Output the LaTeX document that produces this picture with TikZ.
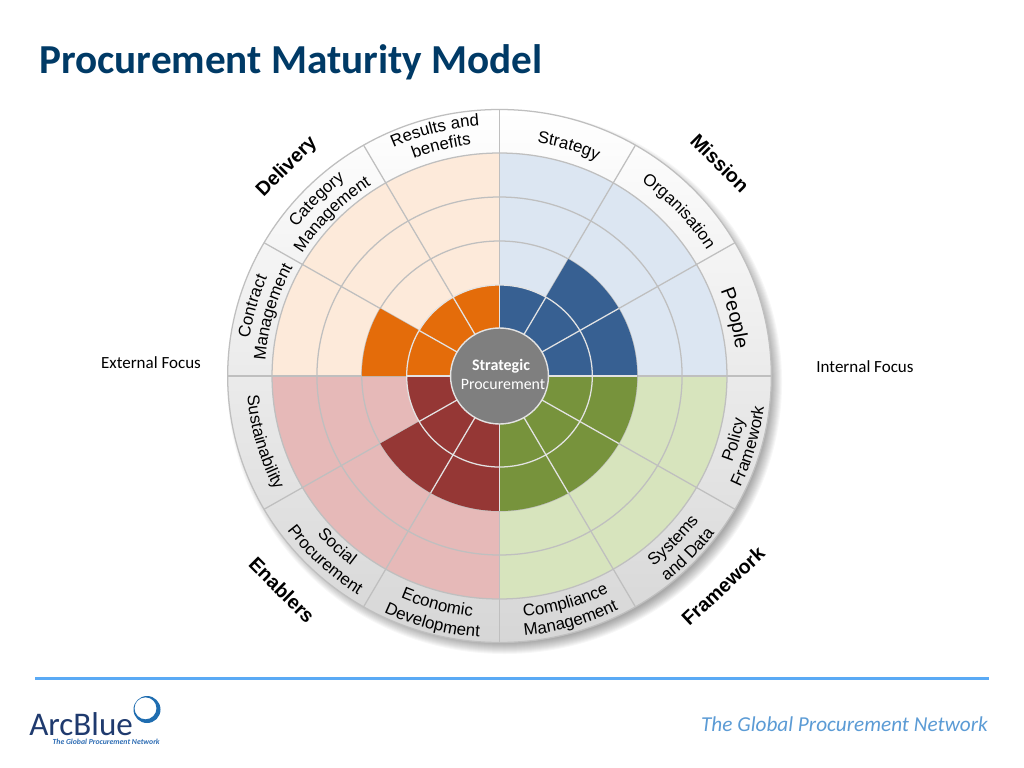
\documentclass[tikz,border=0pt]{standalone}
\usepackage{fontspec}
\usepackage{tikz}
\usetikzlibrary{decorations.text}
\setmainfont{Carlito}
\newfontfamily\arialfont{Liberation Sans}
\newcommand{\bandtext}{\arialfont\fontsize{12}{14}\selectfont}
\newcommand{\peopletext}{\arialfont\fontsize{14}{16}\selectfont}
\definecolor{titleblue}{HTML}{003A66}
\definecolor{ruleblue}{HTML}{5AAAF5}
\definecolor{netblue}{HTML}{5B9BD5}
\definecolor{logoblue}{HTML}{1F3A6E}
\definecolor{ringblue}{HTML}{1F6DB0}
\definecolor{tagblue}{HTML}{2E6DB4}
\definecolor{ringgrey}{HTML}{BFBFBF}
\definecolor{palering}{HTML}{E3E3E3}
\definecolor{coregrey}{HTML}{7F7F7F}
\definecolor{orangelight}{HTML}{FDEADA}
\definecolor{orangedark}{HTML}{E46C0A}
\definecolor{bluelight}{HTML}{DCE6F2}
\definecolor{bluedark}{HTML}{376092}
\definecolor{redlight}{HTML}{E6B9B8}
\definecolor{reddark}{HTML}{953735}
\definecolor{greenlight}{HTML}{D7E4BD}
\definecolor{greendark}{HTML}{77933C}
\tikzset{
  groupname/.style={inner sep=0pt,font=\arialfont\bfseries\fontsize{14}{16}\selectfont},
  sidename/.style={inner sep=0pt,font=\fontsize{12.1}{14}\selectfont},
  corename/.style={text=white,font=\fontsize{11.3}{13}\selectfont,inner sep=0pt},
  bandpath/.style={decorate,decoration={text along path,text align=center}},
  spoke/.style={ringgrey,line width=0.9pt},
  palespoke/.style={palering,line width=0.9pt},
}
% one line of band text on an arc of the wheel
\newcommand{\bandlabel}[5][\bandtext]{
  \path[bandpath,decoration={text={|#1|#5}}] (#2:{1.02*#4} and #4) arc[start angle=#2,end angle=#3,x radius={1.02*#4},y radius=#4];
}
% light quarter of the wheel: colour, start angle
\newcommand{\lightquarter}[2]{
  \fill[#1] (0,0) -- (#2:223) arc[start angle=#2,end angle=#2+90,radius=223] -- cycle;
}
% dark wedges of a quarter: colour, start angle, three radii
\newcommand{\darkquarter}[5]{
  \fill[#1] (0,0) -- (#2:#3) arc[start angle=#2,end angle=#2+30,radius=#3] -- cycle;
  \fill[#1] (0,0) -- (#2+30:#4) arc[start angle=#2+30,end angle=#2+60,radius=#4] -- cycle;
  \fill[#1] (0,0) -- (#2+60:#5) arc[start angle=#2+60,end angle=#2+90,radius=#5] -- cycle;
}
\begin{document}
\begin{tikzpicture}[x=0.025cm,y=0.025cm]
\useasboundingbox (0,0) rectangle (1024,-768);
\fill[white] (0,0) rectangle (1024,-768);
\node[anchor=west,inner sep=0pt,text=titleblue,font=\bfseries\fontsize{29.3}{32}\selectfont] (title) at (39,-62) {Procurement Maturity Model};
\begin{scope}[shift={(499.5,-376)},xscale=1.02]
% shadow
\foreach \i in {1,...,12}
  \fill[black,opacity=0.03] (5,-6) circle (273-\i);
\shade[top color=white,bottom color=black!16] (0,0) circle (266.5);
\draw[ringgrey,line width=0.9pt] (0,0) circle (266.5);
\lightquarter{bluelight}{0}
\lightquarter{orangelight}{90}
\lightquarter{redlight}{180}
\lightquarter{greenlight}{270}
\foreach \r in {135,179,223}
  \draw[spoke] (0,0) circle (\r);
\foreach \a in {0,30,...,330}
  \draw[spoke] (\a:48) -- (\a:266.5);
\darkquarter{bluedark}{0}{135}{135}{91}
\darkquarter{orangedark}{90}{91}{91}{135}
\darkquarter{reddark}{180}{91}{135}{135}
\darkquarter{greendark}{270}{135}{135}{135}
\draw[palespoke] (0,0) circle (91);
\foreach \a/\r in {0/135,30/135,60/91,90/91,120/91,150/91,180/91,210/91,240/135,270/135,300/135,330/135}
  \draw[palespoke] (\a:48) -- (\a:\r);
\fill[coregrey] (0,0) circle (48);
\draw[palering,line width=1pt] (0,0) circle (48);
\end{scope}
\begin{scope}[shift={(499.5,-376)}]
% upper half reads clockwise, lower half counter-clockwise
\bandlabel{124.5}{84.5}{251}{Results and}
\bandlabel{124}{84}{233}{benefits}
\bandlabel{93.5}{53.5}{236}{Strategy}
\bandlabel{155.5}{115.5}{248}{Category}
\bandlabel{155.5}{115.5}{229}{Management}
\bandlabel{63}{23}{239}{Organisation}
\bandlabel{184}{144}{248}{Contract}
\bandlabel{184}{144}{230}{Management}
\bandlabel[\peopletext]{34}{-6}{233}{People}
\bandlabel{176}{216}{248}{Sustainability}
\bandlabel{207}{247}{239}{Social}
\bandlabel{207}{247}{259}{Procurement}
\bandlabel{235}{275}{242}{Economic}
\bandlabel{235}{275}{262}{Development}
\bandlabel{266}{306}{242}{Compliance}
\bandlabel{266}{306}{261}{Management}
\bandlabel{296}{336}{243}{Systems}
\bandlabel{296}{336}{263}{and Data}
\bandlabel{324.5}{364.5}{244}{Policy}
\bandlabel{324}{364}{261}{Framework}
\end{scope}
\node[corename,font=\bfseries\fontsize{11.4}{13}\selectfont] (strategic) at (501,-366) {Strategic};
\node[corename] (procurement) at (503,-384) {Procurement};
\node[groupname,rotate=45] (delivery) at (287,-167) {Delivery};
\node[groupname,rotate=-45] (mission) at (720,-163) {Mission};
\node[groupname,rotate=-45] (enablers) at (282,-590) {Enablers};
\node[groupname,rotate=43] (framework) at (723,-586) {Framework};
\node[sidename] (external) at (151,-363) {External Focus};
\node[sidename] (internal) at (865,-367) {Internal Focus};
\draw[ruleblue,line width=1.5pt] (35,-678.5) -- (989,-678.5);
\node[anchor=east,inner sep=0pt,text=netblue,font=\itshape\fontsize{15.1}{17}\selectfont] (network) at (988,-724) {The Global Procurement Network};
\node[anchor=base west,inner sep=0pt,text=logoblue,font=\fontsize{23.5}{28}\selectfont] (arcblue) at (29,-735) {ArcBlue};
\fill[ringblue,even odd rule] (147,-709.5) circle (13.5) (145.5,-708.3) circle (11);
\node[anchor=east,inner sep=0pt,text=tagblue,font=\bfseries\itshape\fontsize{5.5}{7}\selectfont] (tagline) at (160,-742) {The Global Procurement Network};
\end{tikzpicture}
\end{document}
